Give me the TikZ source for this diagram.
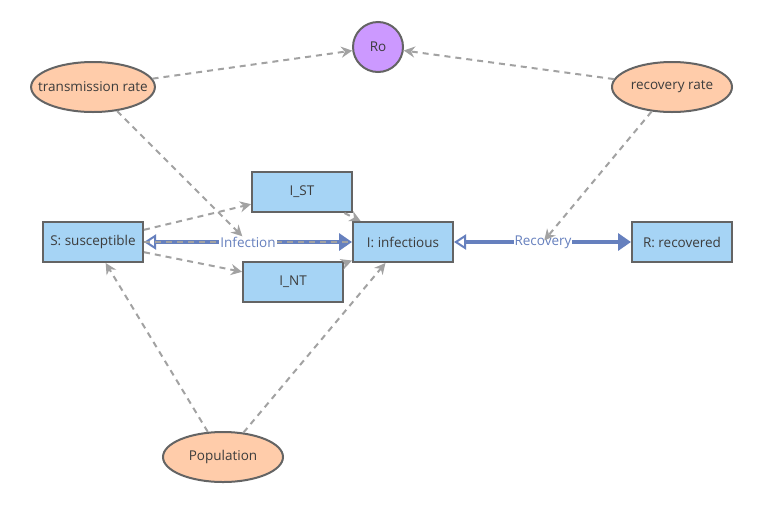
\documentclass[tikz,border=0pt]{standalone}
\usepackage{fontspec}
\setmainfont{Open Sans}
\usetikzlibrary{shapes.geometric,arrows.meta}
\tikzset{>=Stealth}
\definecolor{mylightblue}{RGB}{166,212,245}
\definecolor{mypeach}{RGB}{255,204,170}
\definecolor{mypurple}{RGB}{204,153,255}
\definecolor{myflow}{RGB}{102,128,190}
\definecolor{mylink}{RGB}{162,162,162}
\definecolor{myborder}{RGB}{100,100,100}
\definecolor{mytext}{RGB}{60,60,60}
\tikzset{
  stock/.style={draw=myborder,line width=2pt,fill=mylightblue,text=mytext,
    minimum width=100pt,minimum height=40pt,inner sep=0pt,font=\fontsize{13.5}{16}\selectfont},
  param/.style={ellipse,draw=myborder,line width=2pt,fill=mypeach,text=mytext,
    minimum width=120pt,minimum height=50pt,inner xsep=-11pt,inner ysep=0pt,font=\fontsize{13.5}{16}\selectfont},
  aux/.style={circle,draw=myborder,line width=2pt,fill=mypurple,text=mytext,
    minimum size=50pt,inner sep=0pt,font=\fontsize{13.5}{16}\selectfont},
  link/.style={->,mylink,line width=2pt,dash pattern=on 6pt off 5pt,
    >={Stealth[length=11pt,width=11pt]}},
  flow/.style={myflow,line width=4.5pt,
    {Triangle[open,length=12pt,width=15pt,line width=2pt,fill=white]}-{Triangle[length=13pt,width=17pt]}},
  flowlabel/.style={fill=white,inner sep=1pt,text=myflow,font=\fontsize{13.5}{16}\selectfont}
}
\begin{document}
\begin{tikzpicture}[x=1pt,y=-1pt]
  \useasboundingbox[fill=white] (0,0) rectangle (765,504);

  % parameters
  \node[aux]   (Ro)    at (378,47)  {Ro};
  \node[param] (trate) at (93,87)   {transmission rate};
  \node[param] (rrate) at (672,87)  {recovery rate};
  \node[param] (pop)   at (223,457) {Population};

  % stocks
  \node[stock] (S)   at (93,242)  {S: susceptible};
  \node[stock] (IST) at (302,192) {I\_ST};
  \node[stock] (INT) at (293,282) {I\_NT};
  \node[stock] (I)   at (403,242) {I: infectious};
  \node[stock] (R)   at (682,242) {R: recovered};

  % flows
  \draw[flow] (S) -- (I);
  \draw[mylink,line width=2pt,dash pattern=on 6pt off 5pt] (S) -- (I);
  \draw[flow] (I) -- (R);
  \node[flowlabel] (inflabel) at (248,242) {Infection};
  \node[flowlabel] (reclabel) at (543,242) {Recovery};

  % links
  \draw[link] (trate) -- (Ro);
  \draw[link] (rrate) -- (Ro);
  \draw[link,shorten >=8pt] (trate) -- (inflabel.center);
  \draw[link,shorten >=2pt] (rrate) -- (reclabel.center);
  \draw[link] (S) -- (IST);
  \draw[link] (S) -- (INT);
  \draw[link] (IST) -- (I);
  \draw[link] (INT) -- (I);
  \draw[link] (pop) -- (S);
  \draw[link] (pop) -- (I);

\end{tikzpicture}
\end{document}
